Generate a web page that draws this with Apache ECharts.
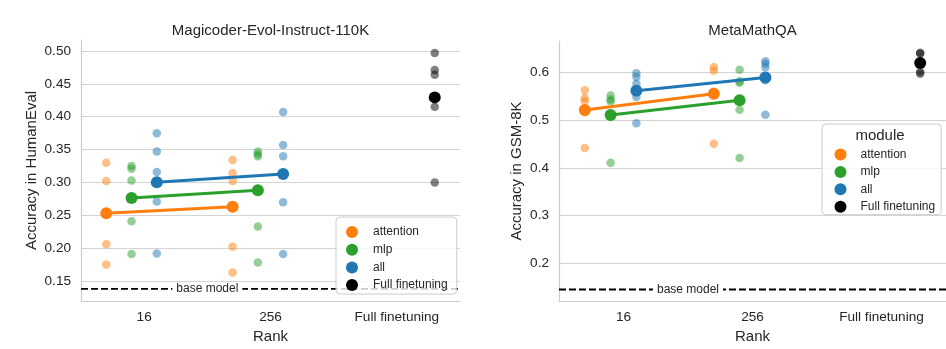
<!DOCTYPE html>
<html>
<head>
<meta charset="utf-8">
<script src="https://cdn.jsdelivr.net/npm/echarts@6/dist/echarts.min.js"></script>
<style>html,body{margin:0;padding:0;background:#fff}#c{width:946px;height:349px}</style>
</head>
<body>
<div id="c"></div>
<script>
// ---- data ----
const xCats = ['16', '256', 'Full finetuning'];
const hueNames = ['attention', 'mlp', 'all', 'Full finetuning'];
const hueColors = ['#ff7f0e', '#2ca02c', '#1f77b4', '#000000'];
const dodge = [-0.3, -0.1, 0.1, 0.3];

// HumanEval (Magicoder-Evol-Instruct-110K)
const heAttention16 = [0.330, 0.302, 0.206, 0.175];
const heAttention256 = [0.334, 0.314, 0.302, 0.202, 0.163];
const heMlp16 = [0.325, 0.321, 0.303, 0.241, 0.191];
const heMlp256 = [0.347, 0.343, 0.340, 0.233, 0.178];
const heAll16 = [0.375, 0.347, 0.316, 0.271, 0.192];
const heAll256 = [0.407, 0.357, 0.340, 0.270, 0.191];
const heFull = [0.497, 0.471, 0.464, 0.415, 0.300];
const heBase = 0.138;
const heTicks = [0.15, 0.20, 0.25, 0.30, 0.35, 0.40, 0.45, 0.50];

// GSM-8K (MetaMathQA)
const gsmAttention16 = [0.563, 0.547, 0.540, 0.517, 0.442];
const gsmAttention256 = [0.612, 0.604, 0.560, 0.553, 0.451];
const gsmMlp16 = [0.552, 0.544, 0.540, 0.508, 0.411];
const gsmMlp256 = [0.606, 0.582, 0.579, 0.522, 0.421];
const gsmAll16 = [0.599, 0.591, 0.577, 0.549, 0.494];
const gsmAll256 = [0.624, 0.619, 0.611, 0.584, 0.512];
const gsmFull = [0.642, 0.640, 0.602, 0.598];
const gsmBase = 0.145;
const gsmTicks = [0.2, 0.3, 0.4, 0.5, 0.6];

const titles = ['Magicoder-Evol-Instruct-110K', 'MetaMathQA'];
const yNames = ['Accuracy in HumanEval', 'Accuracy in GSM-8K'];

// ---- build ----
const FONT = "'Liberation Sans', Arial, sans-serif";
const TXT = '#262626';
const mean = a => a.reduce((s, v) => s + v, 0) / a.length;

const panels = [
  { mods: [[heAttention16, heAttention256], [heMlp16, heMlp256], [heAll16, heAll256]], full: heFull, base: heBase },
  { mods: [[gsmAttention16, gsmAttention256], [gsmMlp16, gsmMlp256], [gsmAll16, gsmAll256]], full: gsmFull, base: gsmBase }
];

const series = [];
panels.forEach((p, g) => {
  // base model line
  series.push({
    type: 'line', name: 'base_' + g, xAxisIndex: g, yAxisIndex: g, silent: true, z: 3,
    symbol: 'none', data: [[-0.5, p.base], [2.5, p.base]],
    lineStyle: { color: '#000', width: 1.8, type: [7, 3] }, animation: false
  });
  series.push({
    type: 'scatter', name: 'baselabel_' + g, xAxisIndex: g, yAxisIndex: g, silent: true, z: 4,
    symbolSize: 1, itemStyle: { color: 'rgba(0,0,0,0)', opacity: 1 },
    data: [[0.5, p.base]],
    label: { show: true, position: 'inside', formatter: 'base model', backgroundColor: '#fff',
      padding: [1, 4], fontSize: 12, color: TXT, fontFamily: FONT },
    animation: false
  });
  p.mods.forEach((pair, i) => {
    const pts = [];
    pair.forEach((arr, xi) => arr.forEach(v => pts.push([xi + dodge[i], v])));
    series.push({
      type: 'scatter', name: hueNames[i] + '_pts_' + g, xAxisIndex: g, yAxisIndex: g, z: 2, silent: true,
      symbolSize: 8.5, itemStyle: { color: hueColors[i], opacity: 0.5 }, data: pts, animation: false
    });
  });
  series.push({
    type: 'scatter', name: 'full_pts_' + g, xAxisIndex: g, yAxisIndex: g, z: 2, silent: true,
    symbolSize: 8.5, itemStyle: { color: hueColors[3], opacity: 0.5 },
    data: p.full.map(v => [2 + dodge[3], v]), animation: false
  });
});
// mean lines (after the points so they are on top)
panels.forEach((p, g) => {
  p.mods.forEach((pair, i) => {
    series.push({
      type: 'line', name: hueNames[i], xAxisIndex: g, yAxisIndex: g, z: 6,
      symbol: 'circle', symbolSize: 12, showSymbol: true,
      data: pair.map((arr, xi) => [xi + dodge[i], mean(arr)]),
      lineStyle: { color: hueColors[i], width: 3 }, itemStyle: { color: hueColors[i], opacity: 1 }, animation: false
    });
  });
  series.push({
    type: 'scatter', name: hueNames[3], xAxisIndex: g, yAxisIndex: g, z: 6,
    symbolSize: 12, itemStyle: { color: hueColors[3], opacity: 1 },
    data: [[2 + dodge[3], mean(p.full)]], animation: false
  });
});

const xAxisBase = (g) => ({
  type: 'value', gridIndex: g, min: -0.5, max: 2.5,
  axisLine: { show: true, onZero: false, lineStyle: { color: '#cccccc', width: 1.2 } },
  axisTick: { show: false }, splitLine: { show: false },
  axisLabel: { customValues: [0, 1, 2], formatter: v => xCats[Math.round(v)], fontSize: 13.6, color: TXT, margin: 9, fontFamily: FONT },
  name: 'Rank', nameLocation: 'middle', nameGap: 25,
  nameTextStyle: { fontSize: 15, color: TXT, fontFamily: FONT }
});
const yAxisBase = (g, min, max, ticks, dec, gap) => ({
  type: 'value', gridIndex: g, min: min, max: max,
  axisLine: { show: true, onZero: false, lineStyle: { color: '#cccccc', width: 1.2 } },
  axisTick: { show: false, customValues: ticks },
  splitLine: { show: true, lineStyle: { color: '#d4d4d4', width: 1 } },
  axisLabel: { customValues: ticks, formatter: v => v.toFixed(dec), fontSize: 13.6, color: TXT, margin: 10, fontFamily: FONT },
  name: yNames[g], nameLocation: 'middle', nameGap: gap,
  nameTextStyle: { fontSize: 15, color: TXT, fontFamily: FONT }
});

const legendCommon = {
  orient: 'vertical', icon: 'circle', itemWidth: 12, itemHeight: 12,
  backgroundColor: 'rgba(255,255,255,0.8)', borderColor: '#cccccc', borderWidth: 1, borderRadius: 4,
  textStyle: { fontSize: 12, color: TXT, fontFamily: FONT, lineHeight: 14, padding: [0, 0, 0, 10] },
  data: hueNames, selectedMode: false
};

const option = {
  backgroundColor: '#fff',
  animation: false,
  textStyle: { fontFamily: FONT },
  grid: [
    { left: 81, top: 40, width: 379, height: 261 },
    { left: 559, top: 41, width: 387, height: 260 }
  ],
  xAxis: [xAxisBase(0), xAxisBase(1)],
  yAxis: [
    yAxisBase(0, 0.1196, 0.5167, heTicks, 2, 42),
    yAxisBase(1, 0.1209, 0.6665, gsmTicks, 1, 35)
  ],
  legend: [
    Object.assign({}, legendCommon, { left: 336, top: 217, padding: [8, 9, 2, 10], itemGap: 3.7 }),
    Object.assign({}, legendCommon, { left: 822, top: 124, padding: [23.5, 6, 1, 12.5], itemGap: 3.4,
      textStyle: Object.assign({}, legendCommon.textStyle, { padding: [0, 0, 0, 9] }) })
  ],
  graphic: [
    { type: 'text', x: 270.5, y: 30.5, silent: true, style: { text: titles[0], textAlign: 'center', textVerticalAlign: 'middle', font: "15px 'Liberation Sans', Arial, sans-serif", fill: TXT } },
    { type: 'text', x: 752.5, y: 30.5, silent: true, style: { text: titles[1], textAlign: 'center', textVerticalAlign: 'middle', font: "15px 'Liberation Sans', Arial, sans-serif", fill: TXT } },
    { type: 'text', x: 880, y: 136.3, z: 100, silent: true, style: { text: 'module', textAlign: 'center', textVerticalAlign: 'middle', font: "15px 'Liberation Sans', Arial, sans-serif", fill: TXT } }
  ],
  series: series
};

const chart = echarts.init(document.getElementById('c'), null, { renderer: 'canvas' });
chart.setOption(option);
</script>
</body>
</html>
